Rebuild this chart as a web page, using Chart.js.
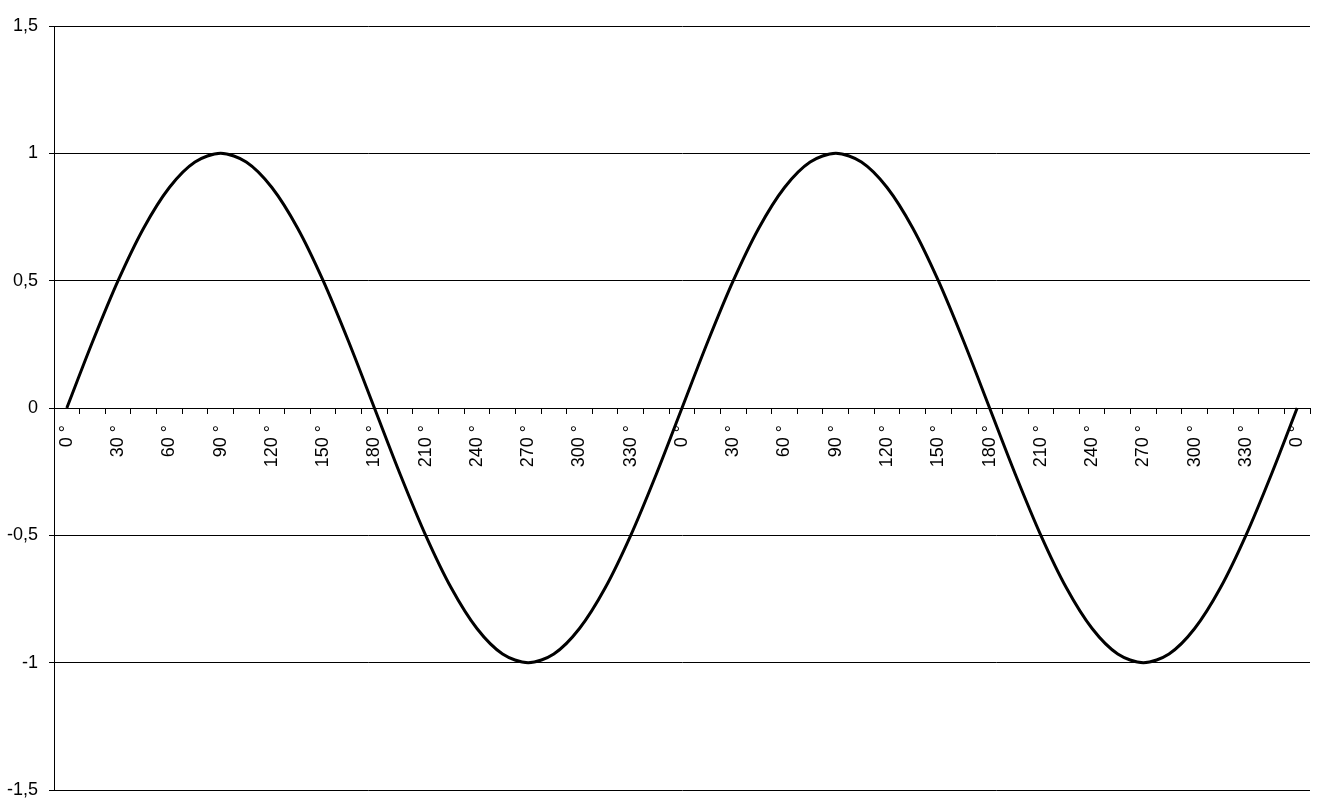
<!DOCTYPE html>
<html>
<head>
<meta charset="utf-8">
<title>Sinus</title>
<script src="https://cdn.jsdelivr.net/npm/chart.js@4/dist/chart.umd.min.js"></script>
<style>
  html, body { margin: 0; padding: 0; background: #fff; }
  #wrap { width: 1324px; height: 810px; position: relative; }
</style>
</head>
<body>
<div id="wrap"><canvas id="sineChart"></canvas></div>
<script>
// angle categories, every 15 degrees over two turns
const categories = [
  '0', '15', '30', '45', '60', '75', '90', '105', '120', '135', '150', '165',
  '180', '195', '210', '225', '240', '255', '270', '285', '300', '315', '330', '345',
  '0', '15', '30', '45', '60', '75', '90', '105', '120', '135', '150', '165',
  '180', '195', '210', '225', '240', '255', '270', '285', '300', '315', '330', '345',
  '0'
];

// values
const values = [
  0, 0.259, 0.5, 0.707, 0.866, 0.966, 1, 0.966, 0.866, 0.707, 0.5, 0.259,
  0, -0.259, -0.5, -0.707, -0.866, -0.966, -1, -0.966, -0.866, -0.707, -0.5, -0.259,
  0, 0.259, 0.5, 0.707, 0.866, 0.966, 1, 0.966, 0.866, 0.707, 0.5, 0.259,
  0, -0.259, -0.5, -0.707, -0.866, -0.966, -1, -0.966, -0.866, -0.707, -0.5, -0.259,
  0
];

const yTicks = [-1.5, -1, -0.5, 0, 0.5, 1, 1.5];

// scales shouldn't push the plot area around, layout padding decides it
function noScalePadding(s) {
  s.paddingLeft = 0;
  s.paddingRight = 0;
  s.paddingTop = 0;
  s.paddingBottom = 0;
}

function initChart() {
  const ctx = document.getElementById('sineChart');
  const font = { family: 'Liberation Sans, Arial, sans-serif', size: 18 };

  new Chart(ctx, {
    type: 'line',
    data: {
      labels: categories,
      datasets: [{
        data: values,
        borderColor: '#000',
        borderWidth: 3,
        pointRadius: 0,
        tension: 0.3,
        fill: false
      }]
    },
    options: {
      responsive: true,
      maintainAspectRatio: false,
      animation: false,
      // plot area: left 54, right 1310, top 26, bottom 790
      layout: { padding: { top: 26, right: 14, bottom: 20, left: 0 } },
      plugins: {
        legend: { display: false },
        tooltip: { enabled: false }
      },
      scales: {
        x: {
          position: { y: 0 },
          offset: true,
          afterFit: noScalePadding,
          grid: {
            offset: true,
            drawOnChartArea: false,
            drawTicks: true,
            tickLength: 5,
            color: '#000',
            lineWidth: 1
          },
          border: { color: '#000', width: 1 },
          ticks: {
            autoSkip: false,
            maxRotation: 90,
            minRotation: 90,
            padding: 12,
            color: '#000',
            font: font,
            callback: (v, i) => i % 2 === 0 ? categories[i] + ' °' : ''
          }
        },
        y: {
          min: -1.5,
          max: 1.5,
          afterFit: s => { noScalePadding(s); s.width = 54; },
          afterBuildTicks: s => { s.ticks = yTicks.map(v => ({ value: v })); },
          grid: {
            color: '#000',
            lineWidth: 1,
            tickLength: 5
          },
          border: { color: '#000', width: 1 },
          ticks: {
            padding: 11,
            color: '#000',
            font: font,
            callback: v => String(v).replace('.', ',')
          }
        }
      }
    }
  });
}

document.addEventListener('DOMContentLoaded', initChart);
</script>
</body>
</html>
